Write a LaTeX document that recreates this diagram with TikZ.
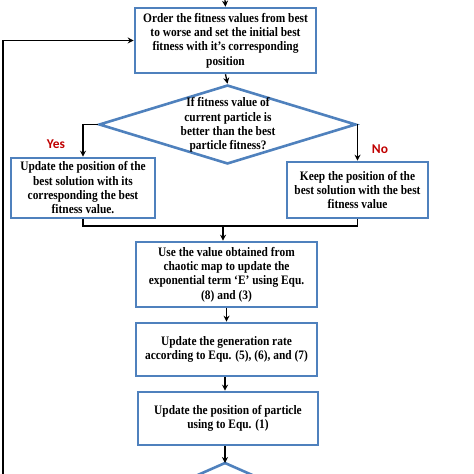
\documentclass[tikz,border=0pt]{standalone}
\usepackage{fontspec}
\setmainfont{Liberation Serif}[FakeStretch=0.88]
\newfontfamily\yesfont{Carlito}
\usetikzlibrary{arrows.meta,shapes.geometric}
\definecolor{boxblue}{HTML}{4F81BD}
\definecolor{labred}{HTML}{C00000}
\begin{document}
\begin{tikzpicture}[x=1bp,y=-1bp,
  box/.style={draw=boxblue,line width=2.6bp,fill=white,align=center,inner sep=0pt,
    font=\fontsize{13}{14.4}\selectfont\bfseries},
  arr/.style={line width=1.3bp,-{Stealth[length=6bp,width=6bp]}},
  ln/.style={line width=1.3bp},
  lab/.style={font=\fontsize{13.5}{15}\selectfont\yesfont\bfseries,text=labred}]
\useasboundingbox (0,0) rectangle (474,474);
\coordinate (bt) at (225,463);
\begin{scope}
\clip (0,0) rectangle (474,474);
% bottom partial diamond
\draw[boxblue,line width=2.6bp,fill=white] (bt) -- (300,496) -- (225,530) -- (150,496) -- cycle;
\end{scope}
\node[box,minimum width=181bp,minimum height=65bp] (b1) at (225.5,40.5) {Order the fitness values from best\\to worse and set the initial best\\fitness with it’s corresponding\\position};
\node[draw=boxblue,line width=2.6bp,diamond,aspect=3.25,minimum width=257bp,minimum height=79bp,inner sep=0pt] (d1) at (227.5,124.5) {};
\node[align=center,font=\fontsize{13}{14.4}\selectfont\bfseries] (d1t) at (228,125) {If fitness value of\\current particle is\\better than the best\\particle fitness?};
\node[box,minimum width=144bp,minimum height=60bp] (b2) at (83,188) {Update the position of the\\best solution with its\\corresponding the best\\fitness value.};
\node[box,minimum width=141bp,minimum height=56bp] (b3) at (357.5,190) {Keep the position of the\\best solution with the best\\fitness value};
\node[box,minimum width=181bp,minimum height=65bp] (b4) at (226.5,274.5) {Use the value obtained from\\chaotic map to update the\\exponential term ‘E’ using Equ.\\(8) and (3)};
\node[box,minimum width=181bp,minimum height=53bp] (b5) at (226.5,349.5) {Update the generation rate\\according to Equ. (5), (6), and (7)};
\node[box,minimum width=180bp,minimum height=53bp] (b6) at (228,418.5) {Update the position of particle\\using to Equ. (1)};
\node[lab] (yes) at (56,144) {Yes};
\node[lab] (no) at (380,149) {No};
\coordinate (top) at (225,0);
\coordinate (lp) at (3,474);
\coordinate (m) at (223,226);
\draw[arr] (top) -- (b1.north);
\draw[arr] (lp) |- (b1.west);
\draw[arr] (b1.south) -- (d1.north);
\draw[arr] (d1.west) -| (b2.north);
\draw[arr] (d1.east) -| (b3.north);
\draw[ln] (b2.south) |- (m) -| (b3.south);
\draw[arr] (m) -- (b4.north -| m);
\draw[arr] (b4.south) -- (b5.north);
\draw[arr] (b5.south -| bt) -- (b6.north -| bt);
\draw[arr] (b6.south -| bt) -- (bt);
\end{tikzpicture}
\end{document}
